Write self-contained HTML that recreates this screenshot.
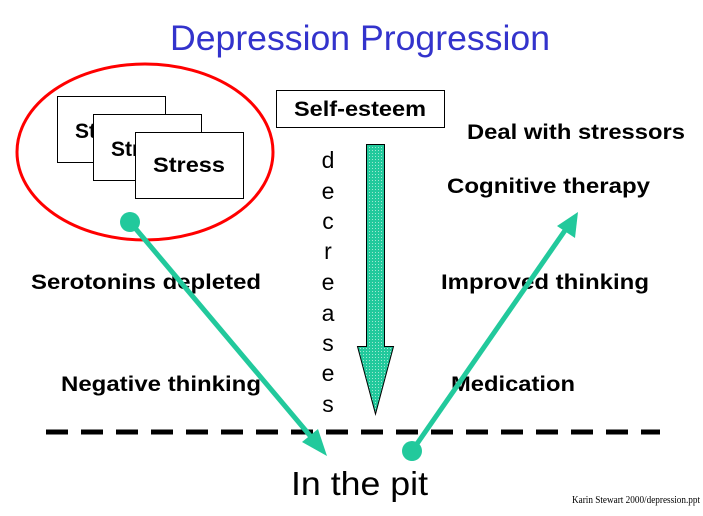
<!DOCTYPE html>
<html><head><style>
html,body{margin:0;padding:0;background:#fff;}
svg{display:block;font-family:"Liberation Sans",Arial,sans-serif;}
</style></head><body>
<svg width="703" height="516" viewBox="0 0 703 516" xmlns="http://www.w3.org/2000/svg">
<defs>
<pattern id="dots" width="3" height="3" patternUnits="userSpaceOnUse">
<rect width="3" height="3" fill="#22c99c"/><rect width="1" height="1" fill="#9fe8d2"/>
</pattern>
</defs>
<text x="170" y="50" textLength="380" lengthAdjust="spacingAndGlyphs" font-size="35" fill="#3333cc">Depression Progression</text>
<ellipse cx="145" cy="152" rx="128" ry="88" fill="none" stroke="#ff0000" stroke-width="3"/>
<rect x="57.5" y="96.5" width="108" height="66" fill="#fff" stroke="#000"/>
<text x="75" y="138" font-size="21" font-weight="bold">Stress</text>
<rect x="93.5" y="114.5" width="108" height="66" fill="#fff" stroke="#000"/>
<text x="111" y="156" font-size="21" font-weight="bold">Stress</text>
<rect x="135.5" y="132.5" width="108" height="66" fill="#fff" stroke="#000"/>
<text x="153" y="172" textLength="72" lengthAdjust="spacingAndGlyphs" font-size="21" font-weight="bold">Stress</text>
<rect x="276.5" y="90.5" width="168" height="37" fill="#fff" stroke="#000"/>
<text x="294" y="116" textLength="132" lengthAdjust="spacingAndGlyphs" font-size="21" font-weight="bold">Self-esteem</text>
<path d="M366.5 144.5 H384.5 V346.5 H393.5 L375.5 414 L357.5 346.5 H366.5 Z" fill="url(#dots)" stroke="#000"/>
<g font-size="23" text-anchor="middle">
<text x="328" y="168">d</text><text x="328" y="199">e</text><text x="328" y="229">c</text>
<text x="328" y="259">r</text><text x="328" y="290">e</text><text x="328" y="321">a</text>
<text x="328" y="351">s</text><text x="328" y="381">e</text><text x="328" y="412">s</text>
</g>
<g font-size="21" font-weight="bold" lengthAdjust="spacingAndGlyphs">
<text x="467" y="139" textLength="218" lengthAdjust="spacingAndGlyphs">Deal with stressors</text>
<text x="447" y="193" textLength="203" lengthAdjust="spacingAndGlyphs">Cognitive therapy</text>
<text x="441" y="289" textLength="208" lengthAdjust="spacingAndGlyphs">Improved thinking</text>
<text x="451" y="391" textLength="124" lengthAdjust="spacingAndGlyphs">Medication</text>
<text x="31" y="289" textLength="230" lengthAdjust="spacingAndGlyphs">Serotonins depleted</text>
<text x="61" y="391" textLength="200" lengthAdjust="spacingAndGlyphs">Negative thinking</text>
</g>
<line x1="46" y1="432" x2="660" y2="432" stroke="#000" stroke-width="5" stroke-dasharray="22,13"/>
<circle cx="130" cy="222" r="10" fill="#22c99c"/>
<line x1="130" y1="222" x2="312" y2="438" stroke="#22c99c" stroke-width="5"/>
<polygon points="327,456 302,442 318,429" fill="#22c99c"/>
<circle cx="412" cy="451" r="10" fill="#22c99c"/>
<line x1="412" y1="451" x2="566" y2="229" stroke="#22c99c" stroke-width="5"/>
<polygon points="578,212 575,238 557,226" fill="#22c99c"/>
<text x="291" y="495" textLength="137" lengthAdjust="spacingAndGlyphs" font-size="33">In the pit</text>
<text x="572" y="503" textLength="128" lengthAdjust="spacingAndGlyphs" font-size="10" font-family="Liberation Serif,serif">Karin Stewart 2000/depression.ppt</text>
</svg>
</body></html>
